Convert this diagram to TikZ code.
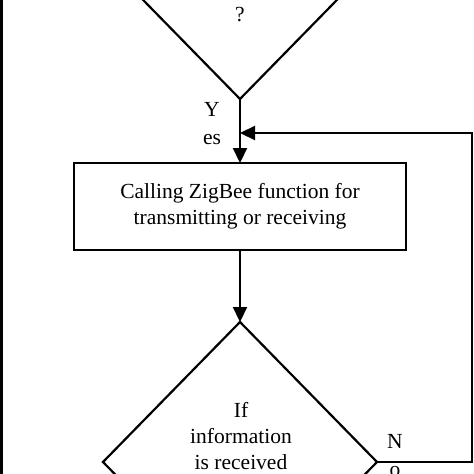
\documentclass[tikz,border=0pt]{standalone}
\usepackage{fontspec}
\setmainfont{Liberation Serif}
\usetikzlibrary{shapes.geometric,arrows.meta}

\tikzset{
    flow/.style={line width=2.2pt,-{Triangle[length=15pt,width=14pt]}},
    decision/.style={diamond,draw,line width=2.2pt,inner sep=0pt,outer sep=0pt,
        minimum width=274pt,minimum height=280pt},
    process/.style={rectangle,draw,line width=2.2pt,inner sep=0pt,outer sep=0pt,
        minimum width=332pt,minimum height=87pt,align=center},
    txt/.style={inner sep=0pt,align=center,font=\fontsize{21.5}{26}\selectfont}
}

\begin{document}
\begin{tikzpicture}[x=1pt,y=-1pt]
        \useasboundingbox (0,0) rectangle (474,474);
        \fill[white] (0,0) rectangle (474,474);
        \draw[line width=3pt] (1.5,0) -- (1.5,474);
        \node[decision] (ask) at (240,-41) {};
        \node[txt] (askq) at (240,15) {?};
        \node[process,font=\fontsize{21.5}{26}\selectfont] (call) at (240,206.5)
            {Calling ZigBee function for\\transmitting or receiving};
        \node[decision] (recv) at (240,462) {};
        \node[txt] (recvq) at (241,436) {If\\information\\is received};
        \node[txt] (yes) at (212,124) {Y\\[2pt]es};
        \node[txt] (no) at (395,456) {N\\[2pt]o};
        \coordinate (join) at (240,133);
        \draw[flow] (ask.south) -- (call.north);
        \draw[flow] (call.south) -- (recv.north);
        \draw[flow] (recv.east) -- ++(95,0) |- (join);
    \end{tikzpicture}
\end{document}
